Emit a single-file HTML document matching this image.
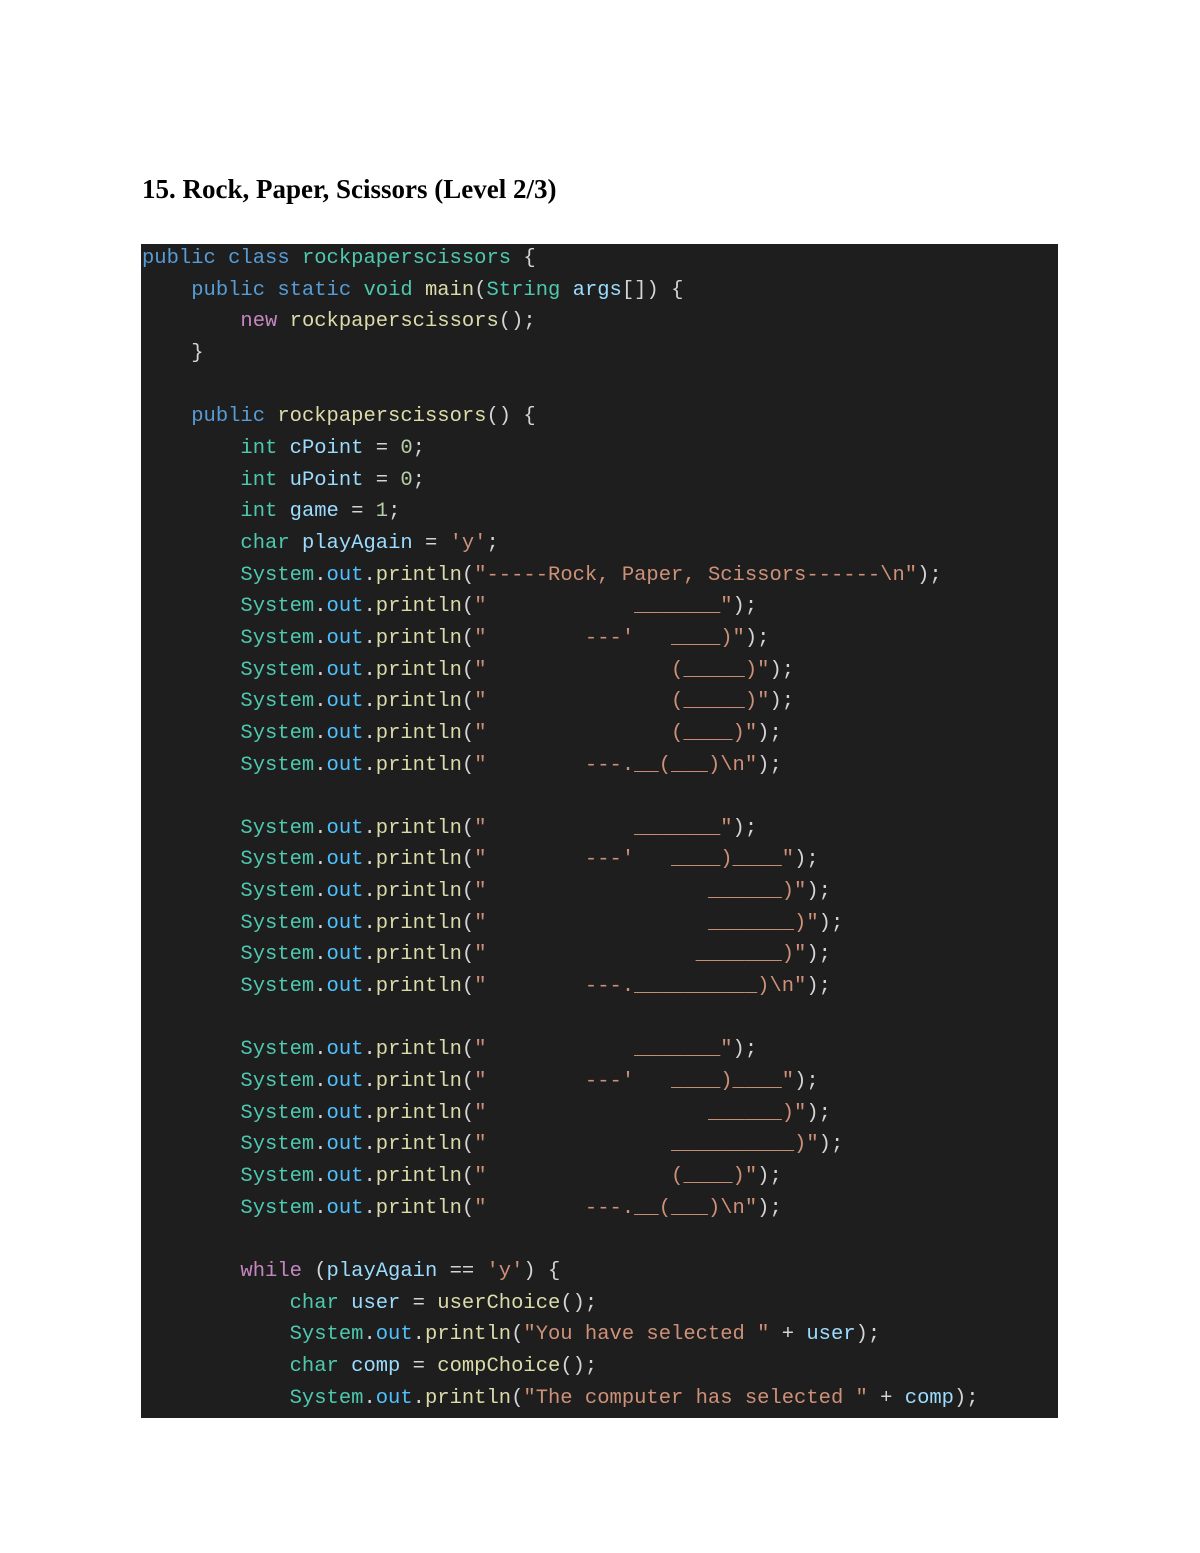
<!DOCTYPE html>
<html><head><meta charset="utf-8"><style>
html,body{margin:0;padding:0;background:#fff;}
body{width:1200px;height:1553px;position:relative;overflow:hidden;}
h1{position:absolute;left:142px;top:174px;margin:0;font:bold 27px "Liberation Serif",serif;color:#000;white-space:nowrap;}
#box{position:absolute;left:141px;top:244px;width:917px;height:1174px;background:#1e1e1e;}
pre{position:absolute;left:142px;top:243px;margin:0;font:20.5px/31.65px "Liberation Mono",monospace;color:#d4d4d4;}
.k{color:#569cd6}.t{color:#4ec9b0}.f{color:#dcdcaa}.s{color:#ce9178}.v{color:#9cdcfe}.n{color:#b5cea8}.p{color:#c586c0}.o{color:#4fc1ff}
</style></head><body>
<h1>15. Rock, Paper, Scissors (Level 2/3)</h1>
<div id="box"></div>
<pre><span class="k">public class</span> <span class="t">rockpaperscissors</span> {
    <span class="k">public static</span> <span class="t">void</span> <span class="f">main</span>(<span class="t">String</span> <span class="v">args</span>[]) {
        <span class="p">new</span> <span class="f">rockpaperscissors</span>();
    }

    <span class="k">public</span> <span class="f">rockpaperscissors</span>() {
        <span class="t">int</span> <span class="v">cPoint</span> = <span class="n">0</span>;
        <span class="t">int</span> <span class="v">uPoint</span> = <span class="n">0</span>;
        <span class="t">int</span> <span class="v">game</span> = <span class="n">1</span>;
        <span class="t">char</span> <span class="v">playAgain</span> = <span class="s">'y'</span>;
        <span class="t">System</span>.<span class="o">out</span>.<span class="f">println</span>(<span class="s">"-----Rock, Paper, Scissors------\n"</span>);
        <span class="t">System</span>.<span class="o">out</span>.<span class="f">println</span>(<span class="s">"            _______"</span>);
        <span class="t">System</span>.<span class="o">out</span>.<span class="f">println</span>(<span class="s">"        ---'   ____)"</span>);
        <span class="t">System</span>.<span class="o">out</span>.<span class="f">println</span>(<span class="s">"               (_____)"</span>);
        <span class="t">System</span>.<span class="o">out</span>.<span class="f">println</span>(<span class="s">"               (_____)"</span>);
        <span class="t">System</span>.<span class="o">out</span>.<span class="f">println</span>(<span class="s">"               (____)"</span>);
        <span class="t">System</span>.<span class="o">out</span>.<span class="f">println</span>(<span class="s">"        ---.__(___)\n"</span>);

        <span class="t">System</span>.<span class="o">out</span>.<span class="f">println</span>(<span class="s">"            _______"</span>);
        <span class="t">System</span>.<span class="o">out</span>.<span class="f">println</span>(<span class="s">"        ---'   ____)____"</span>);
        <span class="t">System</span>.<span class="o">out</span>.<span class="f">println</span>(<span class="s">"                  ______)"</span>);
        <span class="t">System</span>.<span class="o">out</span>.<span class="f">println</span>(<span class="s">"                  _______)"</span>);
        <span class="t">System</span>.<span class="o">out</span>.<span class="f">println</span>(<span class="s">"                 _______)"</span>);
        <span class="t">System</span>.<span class="o">out</span>.<span class="f">println</span>(<span class="s">"        ---.__________)\n"</span>);

        <span class="t">System</span>.<span class="o">out</span>.<span class="f">println</span>(<span class="s">"            _______"</span>);
        <span class="t">System</span>.<span class="o">out</span>.<span class="f">println</span>(<span class="s">"        ---'   ____)____"</span>);
        <span class="t">System</span>.<span class="o">out</span>.<span class="f">println</span>(<span class="s">"                  ______)"</span>);
        <span class="t">System</span>.<span class="o">out</span>.<span class="f">println</span>(<span class="s">"               __________)"</span>);
        <span class="t">System</span>.<span class="o">out</span>.<span class="f">println</span>(<span class="s">"               (____)"</span>);
        <span class="t">System</span>.<span class="o">out</span>.<span class="f">println</span>(<span class="s">"        ---.__(___)\n"</span>);

        <span class="p">while</span> (<span class="v">playAgain</span> == <span class="s">'y'</span>) {
            <span class="t">char</span> <span class="v">user</span> = <span class="f">userChoice</span>();
            <span class="t">System</span>.<span class="o">out</span>.<span class="f">println</span>(<span class="s">"You have selected "</span> + <span class="v">user</span>);
            <span class="t">char</span> <span class="v">comp</span> = <span class="f">compChoice</span>();
            <span class="t">System</span>.<span class="o">out</span>.<span class="f">println</span>(<span class="s">"The computer has selected "</span> + <span class="v">comp</span>);</pre>
</body></html>
